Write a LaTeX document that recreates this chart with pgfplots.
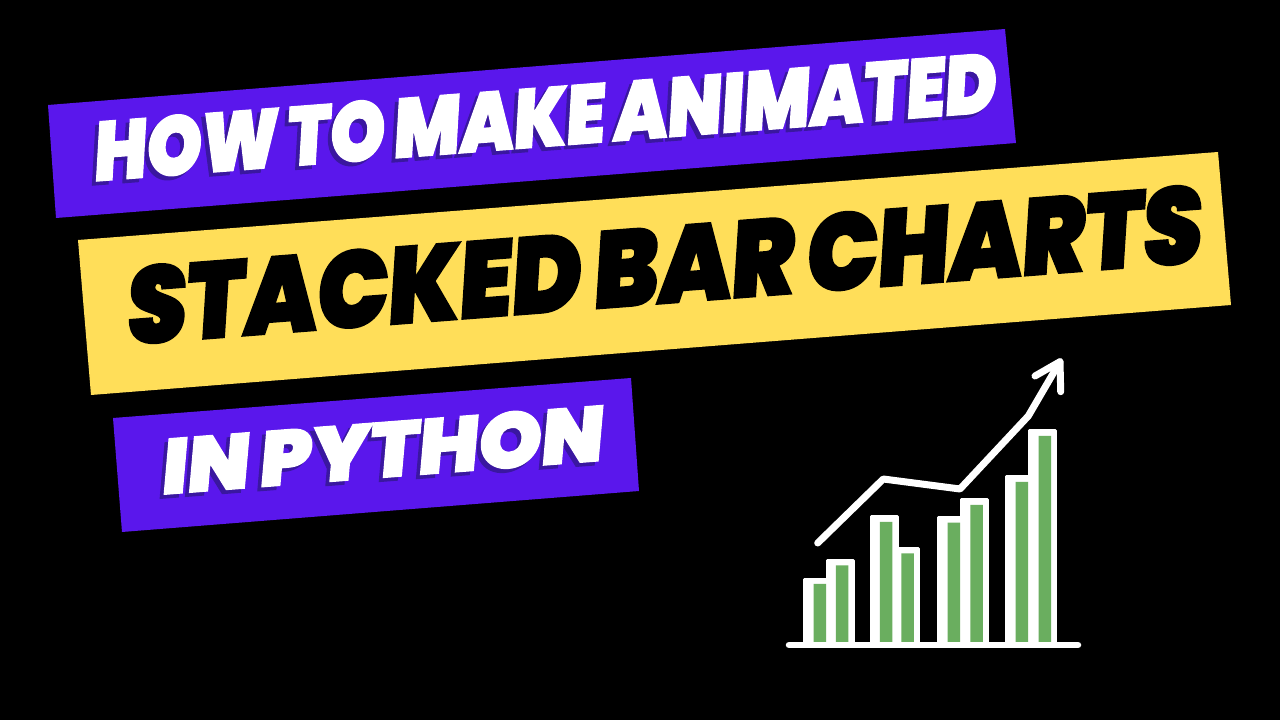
\documentclass[border=0pt]{standalone}
\usepackage{pgfplots}
\usepackage{graphicx}
\usepackage{fontspec}
\pgfplotsset{compat=1.18}
\newfontfamily\heavy[UprightFont={* Black},FakeSlant=0.16,FakeBold=1.6,WordSpace=0.75,LetterSpace=-0.8]{Poppins}
\definecolor{bluep}{HTML}{5A17EC}
\definecolor{shadowp}{HTML}{3A17A0}
\definecolor{yell}{HTML}{FFDE59}
\definecolor{barg}{HTML}{6AAE5F}
\newcommand{\fit}[3]{\resizebox{#1pt}{#2pt}{\heavy #3}}
\begin{document}
\begin{tikzpicture}
\begin{axis}[
  at={(0,0)},anchor=south west,
  scale only axis,width=1280pt,height=720pt,
  xmin=0,xmax=1280,ymin=-75,ymax=645,
  hide axis,clip=false,
  ybar,bar shift=0pt]
% y = 645 - pixel row
\fill[black] (axis cs:0,-75) rectangle (axis cs:1280,645);
\fill[bluep] (axis cs:48,540) -- (axis cs:1005,616) -- (axis cs:1016,502) -- (axis cs:56,427) -- cycle;
\fill[yell] (axis cs:78,405) -- (axis cs:1218,493) -- (axis cs:1231,340) -- (axis cs:91,250) -- cycle;
\fill[bluep] (axis cs:113,227) -- (axis cs:631,267) -- (axis cs:639,154) -- (axis cs:122,113) -- cycle;
\node[rotate=4.4,text=shadowp,inner sep=0] at (axis cs:538,524) {\fit{905}{60}{HOW TO MAKE ANIMATED}};
\node[rotate=4.4,text=white,inner sep=0] at (axis cs:542,528) {\fit{905}{60}{HOW TO MAKE ANIMATED}};
\node[rotate=4.4,text=black,inner sep=0] at (axis cs:660,380) {\fit{1078}{78}{STACKED BAR CHARTS}};
\node[rotate=4.4,text=shadowp,inner sep=0] at (axis cs:375,191) {\fit{443}{56}{IN PYTHON}};
\node[rotate=4.4,text=white,inner sep=0] at (axis cs:379,195) {\fit{443}{56}{IN PYTHON}};
% white bar outlines
\addplot[draw=white,fill=white,line width=3pt,line join=round,bar width=26] coordinates {
 (817.8,65.7) (840,84.7) (884,128) (905.7,96.3) (951.8,127) (974.5,145) (1019.8,168) (1042.8,214)};
% green bars
\addplot[draw=none,fill=barg,bar width=12.5] coordinates {
 (819.8,61) (842,79.7) (886,123) (907.7,91.7) (953.8,122.3) (976.5,140) (1021.8,163) (1044.8,209)};
% baseline
\addplot[sharp plot,white,line width=6.5pt,line cap=round] coordinates {(789,0) (1078,0)};
% trend line and arrow head
\addplot[sharp plot,white,line width=7pt,line cap=round,line join=round] coordinates {
 (817.7,102) (883.3,166) (960,156) (1028.3,229) (1060,283.3)};
\addplot[sharp plot,white,line width=7pt,line cap=round,line join=round] coordinates {
 (1035,269) (1060,283.3) (1060.7,253.3)};
\end{axis}
\end{tikzpicture}
\end{document}
